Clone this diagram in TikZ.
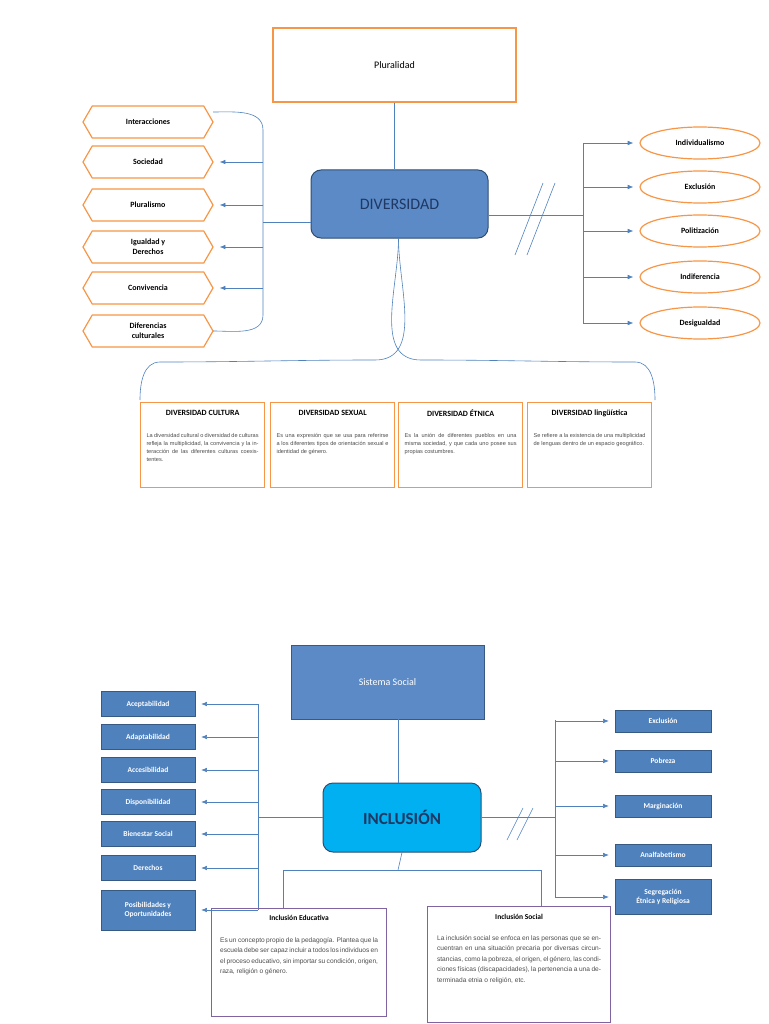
\documentclass[tikz,border=0pt]{standalone}
\usepackage{fontspec}
\setmainfont{Carlito}
\newfontfamily\bodyfont{Liberation Sans}
\usetikzlibrary{positioning,calc,arrows.meta,shapes.geometric,shapes.symbols}
\definecolor{orng}{HTML}{F79646}
\definecolor{lnblue}{HTML}{4F81BD}
\definecolor{boxblue}{HTML}{5B8AC6}
\definecolor{cyanbox}{HTML}{00B0F0}
\definecolor{purp}{HTML}{8064A2}
\definecolor{navy}{HTML}{1F3864}
\tikzset{
  conn/.style={draw=lnblue,line width=0.6pt},
  arr/.style={conn,-{Latex[length=2mm,width=1.6mm]}},
  hexa/.style={draw=orng,line width=1.2pt,fill=white,signal,signal to=east and west,signal pointer angle=120,
    minimum width=130,minimum height=32,inner sep=1pt,align=center,font=\fontsize{8}{10}\selectfont\bfseries},
  oval/.style={draw=orng,line width=1.2pt,fill=white,ellipse,minimum width=120,minimum height=32,
    font=\fontsize{8}{10}\selectfont\bfseries},
  card/.style={draw=orng,line width=1.2pt,minimum width=124,minimum height=85,anchor=north west},
  bluebox/.style={draw=lnblue!70!black,fill=lnblue,text=white,minimum width=94,minimum height=25,
    inner sep=1pt,align=center,font=\fontsize{7.5}{9}\selectfont\bfseries},
  desc/.style={text width=112,align=justify,font=\bodyfont\fontsize{5.6}{8}\selectfont,text=black!70,anchor=north}
}
\begin{document}
\begin{tikzpicture}[x=1pt,y=-1pt]
\useasboundingbox (0,0) rectangle (768,1024);
% ---- diversidad
\node[draw=orng,line width=1.2pt,minimum width=243,minimum height=74] (plur) at (394.5,65) {\fontsize{10}{12}\selectfont\scshape Pluralidad};
\node[draw=lnblue!60!black,line width=1pt,fill=boxblue,rounded corners=10,minimum width=177,minimum height=68] (div) at (399.5,204)
  {\fontsize{16}{18}\selectfont\textcolor{navy}{DIVERSIDAD}};
\draw[conn] (plur.south) -- (plur.south |- div.north);
\foreach \t/\y [count=\i] in {Interacciones/122,Sociedad/162,Pluralismo/205,{Igualdad y\\Derechos}/247,Convivencia/288,{Diferencias\\culturales}/331}
  \node[hexa] (h\i) at (148,\y) {\t};
\coordinate (bl) at (263,222);
\draw[conn] (213,112) to[out=0,in=90] (263,130) -- (263,315) to[out=-90,in=0] (213,331);
\draw[conn] (div.west |- bl) -- (bl);
\foreach \i in {2,...,5} \draw[arr] (263,0 |- h\i) -- ($(h\i.east)+(6,0)$);
\foreach \t/\y [count=\i] in {Individualismo/143,Exclusión/187,Politización/231,Indiferencia/277,Desigualdad/323}
  \node[oval] (o\i) at (700,\y) {\t};
\coordinate (br) at (583,215);
\draw[conn] (div.east |- br) -- (br);
\draw[conn] (515,255) -- (543,183) (527,255) -- (555,183);
\draw[conn] (583,143) -- (583,323);
\foreach \i in {1,...,5} \draw[arr] (583,0 |- o\i) -- ($(o\i.west)+(-6,0)$);
% brace below
\draw[conn] (div.south) ++(-1,0) to[out=-90,in=0] (375,360) to[out=180,in=0] (160,362) to[out=180,in=90] (140,400);
\draw[conn] (div.south) ++(-1,0) to[out=-90,in=180] (421,360) to[out=0,in=180] (635,362) to[out=0,in=90] (655,400);
\foreach \x/\h/\b [count=\i] in {
 140/{DIVERSIDAD CULTURA}/{La diversidad cultural o diversidad de culturas refleja la multiplicidad, la convivencia y la interacción de las diferentes culturas coexistentes.},
 270/{DIVERSIDAD SEXUAL}/{\centering Es una expresión que se usa para referirse a los diferentes tipos de orientación sexual e identidad de género.},
 398/{DIVERSIDAD ÉTNICA}/{Es la unión de diferentes pueblos en una misma sociedad, y que cada uno posee sus propias costumbres.},
 527/{DIVERSIDAD lingüística}/{Se refiere a la existencia de una multiplicidad de lenguas dentro de un espacio geográfico.}}{
  \node[card] (c\i) at (\x,402) {};
  \node[font=\fontsize{8}{10}\selectfont\bfseries] (ct\i) at ($(c\i.north)+(0,11)$) {\h};
  \node[desc] (cd\i) at ($(c\i.north)+(0,28)$) {\b};
}
% ---- inclusion
\node[draw=lnblue!70!black,fill=boxblue,minimum width=193,minimum height=74] (sis) at (387.5,682)
  {\fontsize{10}{12}\selectfont\textcolor{white}{\scshape Sistema Social}};
\node[draw=lnblue!60!black,line width=1pt,fill=cyanbox,rounded corners=10,minimum width=158,minimum height=69] (inc) at (402,817.5)
  {\fontsize{17}{19}\selectfont\bfseries\textcolor{navy}{INCLUSIÓN}};
\draw[conn] (398,0 |- sis.south) -- (398,0 |- inc.north);
\foreach \t/\y/\hh [count=\i] in {Aceptabilidad/704/25,Adaptabilidad/737/25,Accesibilidad/770/25,Disponibilidad/802/25,{Bienestar Social}/834/25,Derechos/868/25,{Posibilidades y\\Oportunidades}/910/40}
  \node[bluebox,minimum height=\hh] (l\i) at (148,\y) {\t};
\draw[conn] (258,704) -- (258,910);
\draw[conn] (inc.west) -- (258,0 |- inc.west);
\foreach \i in {1,...,7} \draw[arr] (258,0 |- l\i) -- ($(l\i.east)+(6,0)$);
\foreach \t/\y/\hh [count=\i] in {Exclusión/721/22,Pobreza/761/22,Marginación/806/22,Analfabetismo/855/22,{Segregación\\Étnica y Religiosa}/897/35}
  \node[bluebox,minimum width=96,minimum height=\hh] (r\i) at (663,\y) {\t};
\draw[conn] (inc.east) -- (555,0 |- inc.east);
\draw[conn] (507,840) -- (523,808) (517,840) -- (533,808);
\draw[conn] (555,720) -- (555,897);
\foreach \i in {1,...,5} \draw[arr] (555,0 |- r\i) -- ($(r\i.west)+(-6,0)$);
\node[draw=purp,line width=1.2pt,minimum width=175,minimum height=108,anchor=north west] (e1) at (211,908) {};
\node[draw=purp,line width=1.2pt,minimum width=183,minimum height=116,anchor=north west] (e2) at (427,906) {};
\coordinate (jn) at (398,870);
\draw[conn] (inc.south) -- (jn);
\draw[conn] (283,0 |- e1.north) -- (283,870) -- (541,870) -- (541,0 |- e2.north);
\node[font=\fontsize{7.5}{9}\selectfont\bfseries] (e1t) at ($(e1.north)+(0,10)$) {Inclusión Educativa};
\node[desc,text width=158,font=\bodyfont\fontsize{6.6}{10.5}\selectfont] (e1d) at ($(e1.north)+(0,26)$) {Es un concepto propio de la pedagogía. Plantea que la escuela debe ser capaz incluir a todos los individuos en el proceso educativo, sin importar su condición, origen, raza, religión o género.};
\node[font=\fontsize{7.5}{9}\selectfont\bfseries] (e2t) at ($(e2.north)+(0,11)$) {Inclusión Social};
\node[desc,text width=164,font=\bodyfont\fontsize{6.6}{10.5}\selectfont] (e2d) at ($(e2.north)+(0,26)$) {La inclusión social se enfoca en las personas que se encuentran en una situación precaria por diversas circunstancias, como la pobreza, el origen, el género, las condiciones físicas (discapacidades), la pertenencia a una determinada etnia o religión, etc.};
\end{tikzpicture}
\end{document}
